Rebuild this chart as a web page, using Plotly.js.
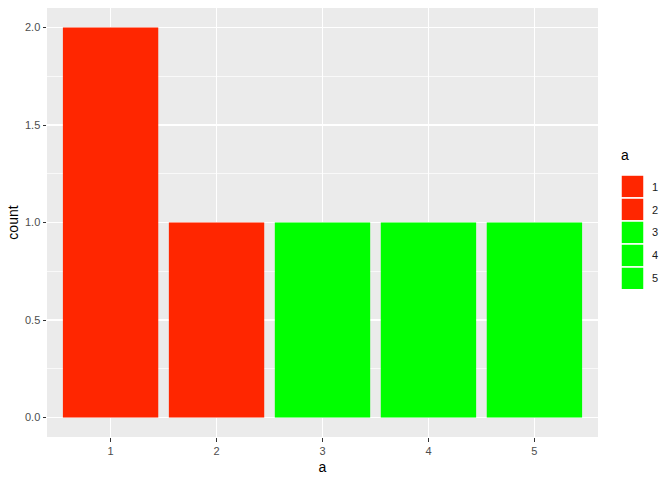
<!DOCTYPE html>
<html><head><meta charset="utf-8">
<script src="https://cdn.plot.ly/plotly-3.0.1.min.js"></script>
<style>body{margin:0;padding:0;}#chart{width:672px;height:480px;}</style>
</head><body><div id="chart"></div>
<script>
const categories = [1, 2, 3, 4, 5];
const counts = [2, 1, 1, 1, 1];
const colors = ["#FF2600", "#FF2600", "#00FF00", "#00FF00", "#00FF00"];
const legendLabels = ["1", "2", "3", "4", "5"];
const yTicks = [0, 0.5, 1, 1.5, 2];
const yTickText = ["0.0", "0.5", "1.0", "1.5", "2.0"];

const W = 672, H = 480;
const M = {l: 47, r: 74, t: 7.5, b: 42.5};
const pw = W - M.l - M.r, ph = H - M.t - M.b;
const px2x = p => (p - M.l) / pw;
const px2y = p => (H - M.b - p) / ph;

const trace = {
  type: 'bar', x: categories, y: counts,
  marker: {color: colors, line: {width: 0}},
  width: 0.9, showlegend: false, hoverinfo: 'x+y'
};

const shapes = [], annotations = [];
const keyTop = 175, keyH = 23, keyL = 621, keyR = 644;
legendLabels.forEach((lab, i) => {
  const t = keyTop + i * keyH;
  shapes.push({type: 'rect', xref: 'paper', yref: 'paper',
    x0: px2x(keyL), x1: px2x(keyR), y0: px2y(t + keyH), y1: px2y(t),
    fillcolor: colors[i], line: {color: 'white', width: 1.5}, layer: 'above'});
  annotations.push({xref: 'paper', yref: 'paper', x: px2x(650), y: px2y(t + keyH / 2),
    xanchor: 'left', yanchor: 'middle', showarrow: false, text: lab,
    font: {family: 'Liberation Sans, Arial, sans-serif', size: 11, color: '#1A1A1A'}});
});
annotations.push({xref: 'paper', yref: 'paper', x: px2x(619), y: px2y(165),
  xanchor: 'left', yanchor: 'bottom', showarrow: false, text: 'a',
  font: {family: 'Liberation Sans, Arial, sans-serif', size: 14, color: '#000000'}});

const layout = {
  width: W, height: H,
  margin: M,
  paper_bgcolor: 'white', plot_bgcolor: '#EBEBEB',
  font: {family: 'Liberation Sans, Arial, sans-serif'},
  showlegend: false,
  bargap: 0.1,
  xaxis: {
    range: [0.4, 5.6], tickvals: categories, ticktext: legendLabels,
    showgrid: true, gridcolor: 'white', gridwidth: 1.4, zeroline: false,
    ticks: 'outside', ticklen: 3.5, tickwidth: 1, tickcolor: '#333333',
    tickfont: {size: 11, color: '#4D4D4D'}, showline: false,
    title: {text: 'a', font: {size: 14, color: '#000000'}, standoff: 6}
  },
  yaxis: {
    range: [-0.1, 2.1], tickvals: yTicks, ticktext: yTickText,
    showgrid: true, gridcolor: 'white', gridwidth: 1.4, zeroline: false,
    ticks: 'outside', ticklen: 3.5, tickwidth: 1, tickcolor: '#333333',
    tickfont: {size: 11, color: '#4D4D4D'}, showline: false,
    minor: {tickvals: [0.25, 0.75, 1.25, 1.75], showgrid: true, gridcolor: 'white', gridwidth: 0.7, ticks: ''},
    title: {text: 'count', font: {size: 14, color: '#000000'}, standoff: 3}
  },
  shapes: shapes, annotations: annotations
};

Plotly.newPlot('chart', [trace], layout, {displayModeBar: false, staticPlot: true});
</script></body></html>
